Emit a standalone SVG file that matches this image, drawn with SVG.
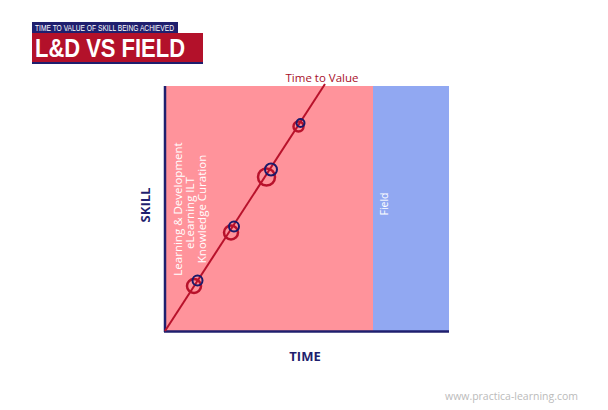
<svg xmlns="http://www.w3.org/2000/svg" width="608" height="410" viewBox="0 0 608 410">
<style>
.w{fill:#fff;font-family:"Open Sans","Liberation Sans",sans-serif}
.t{fill:#fff;font-family:"Liberation Sans",sans-serif}
.nv{fill:#1f1f6e;font-family:"Open Sans","Liberation Sans",sans-serif;font-weight:bold}
.rc{fill:none;stroke:#b8122b;stroke-width:2.5}
.bc{fill:none;stroke:#1a1a6a;stroke-width:2}
</style>
<rect width="608" height="410" fill="#fff"/>
<g id="title">
<rect x="32" y="22" width="146" height="11" fill="#1f1f6e"/>
<text class="t" x="35" y="30.8" font-size="8.5" textLength="139" lengthAdjust="spacingAndGlyphs">TIME TO VALUE OF SKILL BEING ACHIEVED</text>
<rect x="32" y="33" width="171" height="29" fill="#b3112a"/>
<rect x="32" y="62" width="171" height="2" fill="#1f1f6e"/>
<text class="t" x="35" y="56.5" font-size="26" font-weight="bold" textLength="150" lengthAdjust="spacingAndGlyphs">L&amp;D VS FIELD</text>
</g>
<g id="ld">
<rect x="165" y="86" width="208" height="245" fill="#ff939b"/>
<text class="w" font-size="11.5" text-anchor="middle" transform="translate(182,209) rotate(-90)">Learning &amp; Development</text>
<text class="w" font-size="11.5" text-anchor="middle" transform="translate(194,213) rotate(-90)">eLearning ILT</text>
<text class="w" font-size="11.5" text-anchor="middle" transform="translate(206,209) rotate(-90)">Knowledge Curation</text>
</g>
<g id="field">
<rect x="373" y="86" width="76" height="245" fill="#91a8f2"/>
<text class="w" font-size="10.5" text-anchor="middle" transform="translate(388,204) rotate(-90)">Field</text>
</g>
<g id="axes">
<line x1="165" y1="86" x2="165" y2="332" stroke="#1f1f6e" stroke-width="2.5"/>
<line x1="164" y1="331.5" x2="449" y2="331.5" stroke="#1f1f6e" stroke-width="2.5"/>
<text class="nv" font-size="13" text-anchor="middle" transform="translate(150,205) rotate(-90)">SKILL</text>
<text class="nv" x="305" y="361" font-size="13" text-anchor="middle">TIME</text>
</g>
<g id="connectors">
<line x1="165" y1="331" x2="325" y2="84" stroke="#b8122b" stroke-width="2"/>
<circle class="rc" cx="194" cy="286" r="7"/>
<circle class="bc" cx="197.5" cy="280.5" r="5"/>
<circle class="rc" cx="231" cy="232.5" r="7"/>
<circle class="bc" cx="234" cy="226.5" r="5"/>
<circle class="rc" cx="266.5" cy="177" r="8.5"/>
<circle class="bc" cx="271" cy="169.5" r="6"/>
<circle class="rc" cx="298.5" cy="126.5" r="5"/>
<circle class="bc" cx="300.5" cy="123" r="4"/>
</g>
<text x="322" y="82" font-size="11.5" fill="#a8102a" text-anchor="middle" font-family="Open Sans, Liberation Sans, sans-serif">Time to Value</text>
<text x="445" y="400" font-size="10.5" fill="#bbbbbb" font-family="Open Sans, Liberation Sans, sans-serif" textLength="133" lengthAdjust="spacingAndGlyphs">www.practica-learning.com</text>
</svg>
